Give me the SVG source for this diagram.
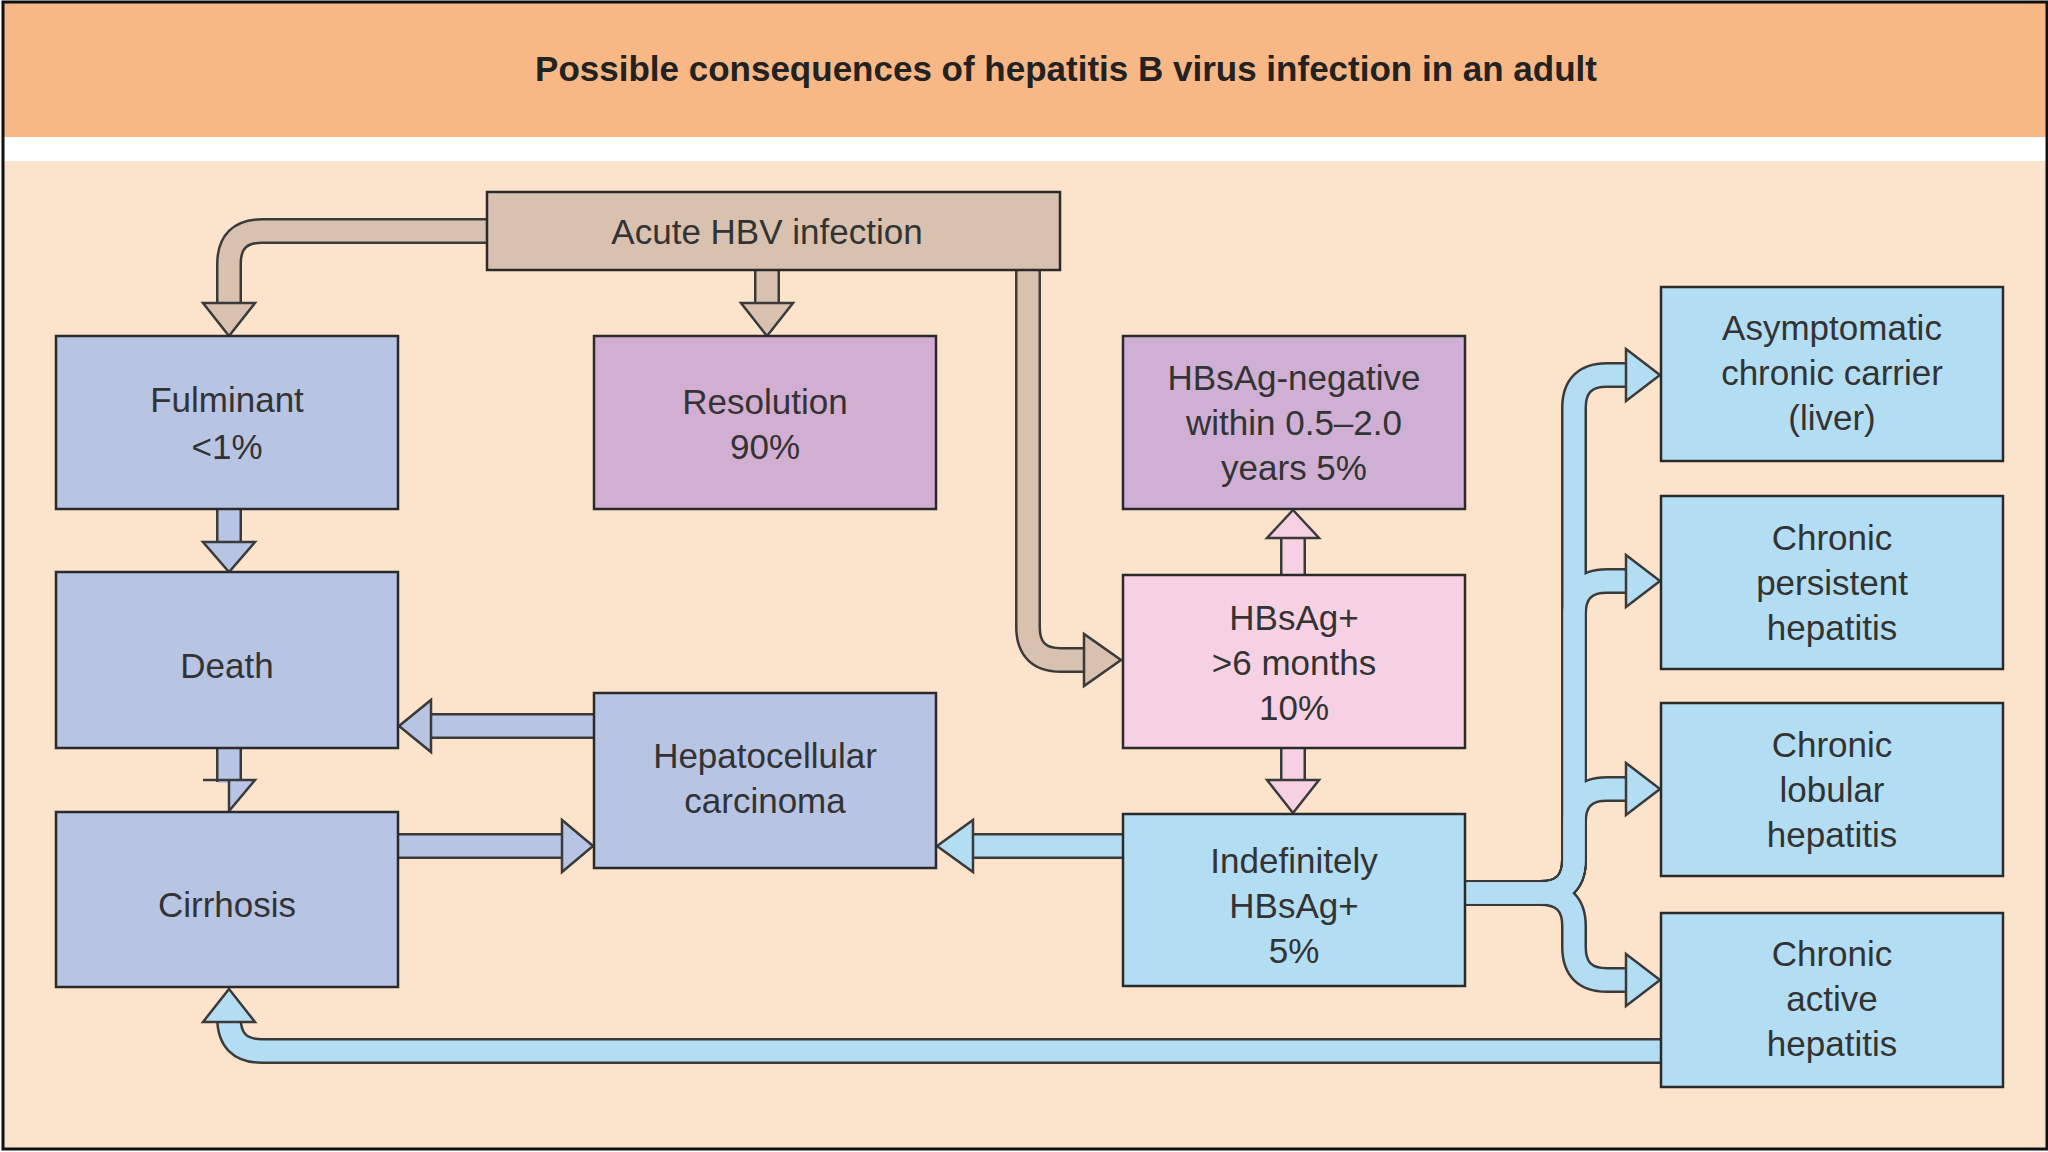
<svg xmlns="http://www.w3.org/2000/svg" xmlns:xlink="http://www.w3.org/1999/xlink" width="2048" height="1152" viewBox="0 0 2048 1152">
<style>
.box{stroke:#2a2a2a;stroke-width:2.5}
.t{font-family:"Liberation Sans",Arial,sans-serif;font-size:35px;fill:#333;text-anchor:middle;dominant-baseline:central}
.o{fill:none;stroke:#3a3a3a;stroke-width:26}
.ft{fill:none;stroke:#D9C1B0;stroke-width:21}
.fb{fill:none;stroke:#B3DDF2;stroke-width:21}
.fv{fill:none;stroke:#B8C4E4;stroke-width:21}
.fp{fill:none;stroke:#F6D1E4;stroke-width:21}
.h{stroke:#3a3a3a;stroke-width:2.5;stroke-linejoin:miter}
</style>
<rect x="0" y="0" width="2048" height="1152" fill="#fff"/>
<rect x="3" y="2" width="2044" height="135" fill="#F7B886"/>
<rect x="3" y="161" width="2044" height="988" fill="#FCE4CC"/>
<rect x="3" y="2" width="2044" height="1147" fill="none" stroke="#111" stroke-width="3"/>
<text x="1066" y="68" style="font-family:'Liberation Sans',Arial,sans-serif;font-size:35px;font-weight:bold;fill:#222;text-anchor:middle;dominant-baseline:central">Possible consequences of hepatitis B virus infection in an adult</text>

<g id="connectors">
<!-- tan tubes -->
<path class="o" d="M500 231 H262 Q229 231 229 264 V305"/>
<path class="o" d="M767 265 V305"/>
<path class="o" d="M1028 265 V627 Q1028 660 1061 660 H1086"/>
<path class="ft" d="M500 231 H262 Q229 231 229 264 V306"/>
<path class="ft" d="M767 265 V306"/>
<path class="ft" d="M1028 265 V627 Q1028 660 1061 660 H1087"/>
<polygon class="h" fill="#D9C1B0" points="203,303 255,303 229,336"/>
<polygon class="h" fill="#D9C1B0" points="741,303 793,303 767,336"/>
<polygon class="h" fill="#D9C1B0" points="1084,634 1084,686 1121,660"/>
<!-- pink -->
<path class="o" d="M1293 580 V536"/>
<path class="o" d="M1293 745 V782"/>
<path class="fp" d="M1293 580 V535"/>
<path class="fp" d="M1293 745 V783"/>
<polygon class="h" fill="#F6D1E4" points="1267,538 1319,538 1293,510"/>
<polygon class="h" fill="#F6D1E4" points="1267,780 1319,780 1293,813"/>
<!-- violet-blue -->
<path class="o" d="M229 505 V544"/>
<path class="o" d="M229 745 V782"/>
<path class="o" d="M598 726 H429"/>
<path class="o" d="M394 846 H564"/>
<path class="fv" d="M229 505 V545"/>
<path class="fv" d="M229 745 V783"/>
<path class="fv" d="M598 726 H428"/>
<path class="fv" d="M394 846 H565"/>
<polygon class="h" fill="#B8C4E4" points="229,572 203,542 255,542"/>
<polygon class="h" fill="#B8C4E4" points="229,780 203,780 255,780 229,811"/>
<polygon class="h" fill="#B8C4E4" points="399,726 431,700 431,752"/>
<polygon class="h" fill="#B8C4E4" points="593,846 562,820 562,872"/>
<!-- blue -->
<path class="o" d="M1127 846 H971"/>
<path class="o" d="M1460 893 H1540 Q1574 893 1574 860 V408 Q1574 375 1607 375 H1628"/>
<path class="o" d="M1460 893 H1540 Q1574 893 1574 860 V614 Q1574 581 1607 581 H1628"/>
<path class="o" d="M1460 893 H1540 Q1574 893 1574 860 V822 Q1574 789 1607 789 H1628"/>
<path class="o" d="M1460 893 H1540 Q1574 893 1574 926 V947 Q1574 980 1607 980 H1628"/>
<path class="o" d="M1665 1051 H262 Q229 1051 229 1018 V1020"/>
<path class="fb" d="M1127 846 H970"/>
<path class="fb" d="M1460 893 H1540 Q1574 893 1574 860 V408 Q1574 375 1607 375 H1629"/>
<path class="fb" d="M1460 893 H1540 Q1574 893 1574 860 V614 Q1574 581 1607 581 H1629"/>
<path class="fb" d="M1460 893 H1540 Q1574 893 1574 860 V822 Q1574 789 1607 789 H1629"/>
<path class="fb" d="M1460 893 H1540 Q1574 893 1574 926 V947 Q1574 980 1607 980 H1629"/>
<path class="fb" d="M1665 1051 H262 Q229 1051 229 1018 V1019"/>
<polygon class="h" fill="#B3DDF2" points="937,846 973,820 973,872"/>
<polygon class="h" fill="#B3DDF2" points="1626,349 1626,401 1660,375"/>
<polygon class="h" fill="#B3DDF2" points="1626,555 1626,607 1660,581"/>
<polygon class="h" fill="#B3DDF2" points="1626,763 1626,815 1660,789"/>
<polygon class="h" fill="#B3DDF2" points="1626,954 1626,1006 1660,980"/>
<polygon class="h" fill="#B3DDF2" points="229,989 203,1022 255,1022"/>
</g>

<g id="acute"><rect class="box" x="487" y="192" width="573" height="78" fill="#D9C1B0"/><text class="t" x="767" y="231">Acute HBV infection</text></g>
<g id="fulminant"><rect class="box" x="56" y="336" width="342" height="173" fill="#B8C4E4"/><text class="t" x="227" y="399">Fulminant</text><text class="t" x="227" y="446">&lt;1%</text></g>
<g id="resolution"><rect class="box" x="594" y="336" width="342" height="173" fill="#D3AED3"/><text class="t" x="765" y="401">Resolution</text><text class="t" x="765" y="446">90%</text></g>
<g id="hbsag-neg"><rect class="box" x="1123" y="336" width="342" height="173" fill="#D0AFD4"/><text class="t" x="1294" y="377">HBsAg-negative</text><text class="t" x="1294" y="422">within 0.5–2.0</text><text class="t" x="1294" y="467">years 5%</text></g>
<g id="hbsag-pos"><rect class="box" x="1123" y="575" width="342" height="173" fill="#F6D1E4"/><text class="t" x="1294" y="617">HBsAg+</text><text class="t" x="1294" y="662">&gt;6 months</text><text class="t" x="1294" y="707">10%</text></g>
<g id="death"><rect class="box" x="56" y="572" width="342" height="176" fill="#B8C4E4"/><text class="t" x="227" y="665">Death</text></g>
<g id="cirrhosis"><rect class="box" x="56" y="812" width="342" height="175" fill="#B8C4E4"/><text class="t" x="227" y="904">Cirrhosis</text></g>
<g id="hcc"><rect class="box" x="594" y="693" width="342" height="175" fill="#B8C4E4"/><text class="t" x="765" y="755">Hepatocellular</text><text class="t" x="765" y="800">carcinoma</text></g>
<g id="indef"><rect class="box" x="1123" y="814" width="342" height="172" fill="#B3DDF2"/><text class="t" x="1294" y="860">Indefinitely</text><text class="t" x="1294" y="905">HBsAg+</text><text class="t" x="1294" y="950">5%</text></g>
<g id="asym"><rect class="box" x="1661" y="287" width="342" height="174" fill="#B3DDF2"/><text class="t" x="1832" y="327">Asymptomatic</text><text class="t" x="1832" y="372">chronic carrier</text><text class="t" x="1832" y="417">(liver)</text></g>
<g id="persistent"><rect class="box" x="1661" y="496" width="342" height="173" fill="#B3DDF2"/><text class="t" x="1832" y="537">Chronic</text><text class="t" x="1832" y="582">persistent</text><text class="t" x="1832" y="627">hepatitis</text></g>
<g id="lobular"><rect class="box" x="1661" y="703" width="342" height="173" fill="#B3DDF2"/><text class="t" x="1832" y="744">Chronic</text><text class="t" x="1832" y="789">lobular</text><text class="t" x="1832" y="834">hepatitis</text></g>
<g id="active"><rect class="box" x="1661" y="913" width="342" height="174" fill="#B3DDF2"/><text class="t" x="1832" y="953">Chronic</text><text class="t" x="1832" y="998">active</text><text class="t" x="1832" y="1043">hepatitis</text></g>
</svg>
